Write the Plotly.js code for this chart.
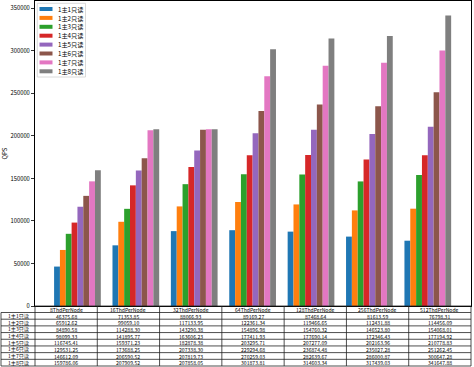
<!DOCTYPE html>
<html><head><meta charset="utf-8">
<script src="https://cdn.plot.ly/plotly-3.0.1.min.js"></script>
<style>html,body{margin:0;padding:0;background:#fff}#c{width:474px;height:367px}</style>
</head><body><div id="c"></div>
<script>
const categories = ["8ThdPerNode","16ThdPerNode","32ThdPerNode","64ThdPerNode","128ThdPerNode","256ThdPerNode","512ThdPerNode"];
const seriesNames = ["1主1只读","1主2只读","1主3只读","1主4只读","1主5只读","1主6只读","1主7只读","1主8只读"];
const s1 = [46375.68, 71353.85, 88066.93, 89169.27, 87468.64, 81613.59, 76798.31];
const s2 = [65912.62, 99059.10, 117133.95, 122361.34, 119466.65, 112431.88, 114456.09];
const s3 = [84890.58, 114288.30, 143290.38, 154896.98, 154760.32, 146523.80, 154068.01];
const s4 = [98099.33, 141895.77, 163606.23, 177411.93, 177690.14, 172346.43, 177194.92];
const s5 = [116745.41, 159371.23, 182878.38, 203295.71, 207277.09, 202163.96, 210778.83];
const s6 = [129531.25, 173688.25, 207338.30, 229294.68, 236874.48, 235027.28, 251262.45];
const s7 = [146612.09, 206590.52, 207819.73, 270259.03, 282639.67, 286000.87, 300647.28];
const s8 = [159786.06, 207909.52, 207858.05, 301873.81, 314603.34, 317439.03, 341647.88];
const seriesValues = [s1,s2,s3,s4,s5,s6,s7,s8];
const yTicks = [0,50000,100000,150000,200000,250000,300000,350000];
const colors = ["#1f77b4","#ff7f0e","#2ca02c","#d62728","#9467bd","#8c564b","#e377c2","#7f7f7f"];
const FONT = "Noto Sans CJK SC, DejaVu Sans, sans-serif";
const W = 472, H = 367;
const px = x => x / W, py = y => 1 - y / H;
const barW = 0.1;

const traces = seriesValues.map((vals, j) => ({
  type: "bar", name: seriesNames[j], x: categories, y: vals,
  width: barW, offset: j*barW - barW/2,
  marker: {color: colors[j], line: {width: 0}},
  showlegend: false
}));

const shapes = [], annotations = [];
const LC = "#222", LW = 0.8;
// ---- table (built from the arrays) ----
const tblL = 1, c0R = 35, tblR = 471, colW = (tblR - c0R) / categories.length;
const hdrT = 306, hdrB = 312.5, rowH = (366 - hdrB) / seriesNames.length;
const tblB = hdrB + rowH * seriesNames.length;
const TF = 5.1;
const line = (x0,y0,x1,y1) => shapes.push({type:"line", xref:"paper", yref:"paper",
  x0:px(x0), y0:py(y0), x1:px(x1), y1:py(y1), line:{color:LC, width:LW}});
const txt = (x,y,t,extra) => annotations.push(Object.assign({xref:"paper", yref:"paper",
  x:px(x), y:py(y), text:t, showarrow:false, xanchor:"center", yanchor:"middle",
  borderpad:0, font:{family:FONT, size:TF, color:"#000"}}, extra||{}));
line(c0R, hdrT, tblR, hdrT);
for (let r = 0; r <= seriesNames.length; r++) line(tblL, hdrB + r*rowH, tblR, hdrB + r*rowH);
line(tblL, hdrB, tblL, tblB);
for (let c = 0; c <= categories.length; c++) line(c0R + c*colW, hdrT, c0R + c*colW, tblB);
categories.forEach((cat, c) => txt(c0R + (c+0.5)*colW, (hdrT+hdrB)/2 + 0.2, cat));
seriesNames.forEach((nm, r) => {
  const yc = hdrB + (r+0.5)*rowH + 0.2;
  txt((tblL + c0R)/2, yc, nm);
  seriesValues[r].forEach((v, c) => txt(c0R + (c+0.5)*colW, yc, v.toFixed(2)));
});
// ---- legend (built from the arrays) ----
shapes.push({type:"rect", xref:"paper", yref:"paper", x0:px(37.3), x1:px(85.5), y0:py(3.3), y1:py(77),
  line:{color:"#d0d0d0", width:0.8}, fillcolor:"rgba(255,255,255,0.85)"});
seriesNames.forEach((nm, j) => {
  const yc = 9 + j*8.9;
  shapes.push({type:"rect", xref:"paper", yref:"paper", x0:px(39.5), x1:px(52.5), y0:py(yc-2), y1:py(yc+2),
    line:{width:0}, fillcolor:colors[j]});
  txt(57.3, yc + 0.2, nm, {xanchor:"left", font:{family:FONT, size:6.2, color:"#000"}});
});

const layout = {
  width: 474, height: 367,
  margin: {l: 0, r: 2, t: 0, b: 0, pad: 0},
  paper_bgcolor: "#fff", plot_bgcolor: "#fff",
  barmode: "overlay", showlegend: false,
  xaxis: {domain: [px(35), px(471)], anchor: "y", range: [-0.377, 7.09],
    showticklabels: false, ticks: "", showgrid: false, zeroline: false,
    showline: true, linecolor: "#000", linewidth: 1, mirror: true},
  yaxis: {domain: [py(306), py(1)], anchor: "x", range: [0, 358730],
    tickvals: yTicks, ticktext: yTicks.map(String),
    ticks: "outside", ticklen: 3, tickwidth: 0.8, tickcolor: "#000",
    tickfont: {family: FONT, size: 5.8, color: "#000"},
    showgrid: false, zeroline: false,
    showline: true, linecolor: "#000", linewidth: 1, mirror: true,
    title: {text: "QPS", font: {family: FONT, size: 6, color: "#000"}, standoff: 4}},
  shapes: shapes, annotations: annotations,
  font: {family: FONT}
};
Plotly.newPlot("c", traces, layout, {staticPlot: true, displayModeBar: false});
</script></body></html>
